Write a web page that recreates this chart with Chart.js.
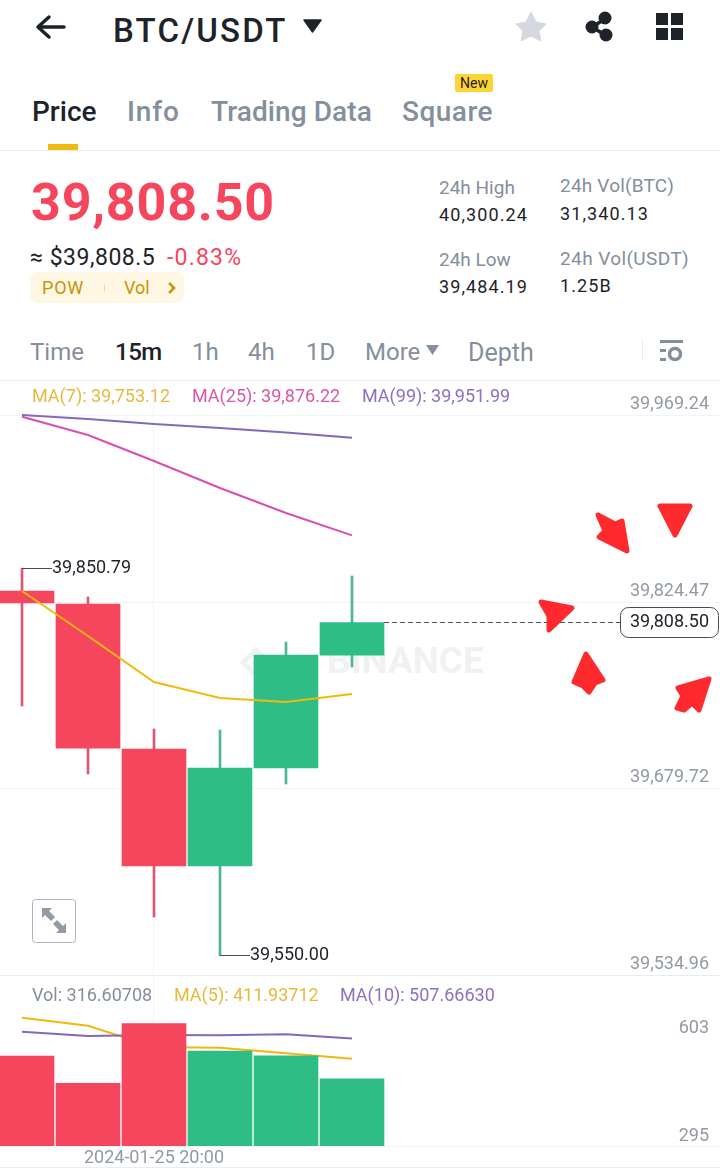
<!DOCTYPE html>
<html>
<head>
<meta charset="utf-8">
<script src="https://cdn.jsdelivr.net/npm/chart.js@4/dist/chart.umd.min.js"></script>
<style>
  html,body{margin:0;padding:0;background:#fff;}
  #page{position:relative;width:720px;height:1170px;overflow:hidden;font-family:Roboto,sans-serif;color:#1E2329;}
  .t{position:absolute;white-space:nowrap;transform:translateY(-50%);line-height:1;}
  .grey{color:#848E9C;}
  .rule{position:absolute;left:0;width:720px;height:1px;background:#EAECEF;}
  canvas{position:absolute;left:0;display:block;}
  svg{position:absolute;left:0;top:0;pointer-events:none;}
</style>
</head>
<body>
<div id="page">
  <!-- top bar -->
  <svg width="720" height="380">
    <path d="M38 27H64M49 17L38 27L49 37" fill="none" stroke="#1E2329" stroke-width="3.5" stroke-linejoin="round" stroke-linecap="round"/>
    <path d="M304 20H321L312.500 32Z" fill="#1E2329" stroke="#1E2329" stroke-width="1.500" stroke-linejoin="round"/>
    <path d="M531 12L536 22L546 24L539 31L541 41L531 36L521 41L523 31L516 24L526 22Z" fill="#D5D9DF" stroke="#D5D9DF" stroke-linejoin="round"/>
    <path d="M605 19L592 27L605 35" fill="none" stroke="#1E2329" stroke-width="3.500"/>
    <circle cx="605" cy="18" r="6.500" fill="#1E2329"/><circle cx="592" cy="27" r="6.500" fill="#1E2329"/><circle cx="606" cy="35" r="6.500" fill="#1E2329"/>
    <rect x="656" y="13" width="12" height="12" fill="#1E2329"/><rect x="671" y="13" width="12" height="12" fill="#1E2329"/>
    <rect x="656" y="28" width="12" height="12" fill="#1E2329"/><rect x="671" y="28" width="12" height="12" fill="#1E2329"/>
    <rect x="48" y="144" width="30" height="6" fill="#F0B90B"/>
    <rect x="455" y="74" width="38" height="18" rx="2" fill="#FCD535"/>
    <rect x="30" y="272" width="154" height="31" rx="8" fill="#FDF7E4"/>
    <rect x="104" y="285" width="1" height="6" fill="#E6D9A8"/>
    <path d="M169 283L174 288L169 293" fill="none" stroke="#C99400" stroke-width="2.500"/>
    <path d="M426 345H439L432.500 355Z" fill="#848E9C"/>
    <rect x="642" y="338" width="1" height="22" fill="#EAECEF"/>
    <rect x="660" y="340" width="23" height="3" fill="#848E9C"/>
    <rect x="660" y="349" width="6" height="3" fill="#848E9C"/><rect x="660" y="358" width="6" height="3" fill="#848E9C"/>
    <circle cx="675" cy="354" r="5.500" fill="none" stroke="#848E9C" stroke-width="3.500"/>
  </svg>
  <div class="t" style="left:113px;top:30px;font-size:33px;font-weight:500;letter-spacing:2.2px;">BTC/USDT</div>
  <div class="t" style="left:460px;top:83px;font-size:14px;">New</div>
  <div class="t" style="left:32px;top:112px;font-size:28px;font-weight:500;">Price</div>
  <div class="t grey" style="left:127px;top:112px;font-size:28px;font-weight:500;letter-spacing:.9px;">Info</div>
  <div class="t grey" style="left:211px;top:112px;font-size:28px;font-weight:500;letter-spacing:.1px;">Trading Data</div>
  <div class="t grey" style="left:402px;top:112px;font-size:28px;font-weight:500;letter-spacing:.5px;">Square</div>
  <div class="rule" style="top:150px;"></div>

  <div class="t" style="left:31px;top:203px;font-size:52px;font-weight:700;color:#F6465D;letter-spacing:.8px;">39,808.50</div>
  <div class="t" style="left:30px;top:257px;font-size:23px;letter-spacing:.5px;">≈ $39,808.5</div>
  <div class="t" style="left:167px;top:257px;font-size:23px;color:#F6465D;letter-spacing:1.2px;">-0.83%</div>
  <div class="t" style="left:42px;top:288px;font-size:18px;color:#C99400;letter-spacing:.8px;">POW</div>
  <div class="t" style="left:124px;top:288px;font-size:18px;color:#C99400;">Vol</div>

  <div class="t grey" style="left:439px;top:187px;font-size:19px;">24h High</div>
  <div class="t" style="left:439px;top:215px;font-size:18px;letter-spacing:1.1px;">40,300.24</div>
  <div class="t grey" style="left:560px;top:185px;font-size:19px;letter-spacing:.2px;">24h Vol(BTC)</div>
  <div class="t" style="left:560px;top:214px;font-size:18px;letter-spacing:1.1px;">31,340.13</div>
  <div class="t grey" style="left:439px;top:259px;font-size:19px;">24h Low</div>
  <div class="t" style="left:439px;top:287px;font-size:18px;letter-spacing:1.1px;">39,484.19</div>
  <div class="t grey" style="left:560px;top:258px;font-size:19px;letter-spacing:.4px;">24h Vol(USDT)</div>
  <div class="t" style="left:560px;top:286px;font-size:18px;letter-spacing:1.1px;">1.25B</div>

  <div class="t grey" style="left:30px;top:352px;font-size:24px;">Time</div>
  <div class="t" style="left:115px;top:352px;font-size:24px;font-weight:500;letter-spacing:-.5px;">15m</div>
  <div class="t grey" style="left:192px;top:352px;font-size:24px;">1h</div>
  <div class="t grey" style="left:248px;top:352px;font-size:24px;">4h</div>
  <div class="t grey" style="left:306px;top:352px;font-size:24px;">1D</div>
  <div class="t grey" style="left:365px;top:352px;font-size:24px;">More</div>
  <div class="t grey" style="left:468px;top:352px;font-size:25px;">Depth</div>

  <canvas id="priceChart" width="720" height="595" style="top:380px;"></canvas>
  <canvas id="volChart" width="720" height="195" style="top:975px;"></canvas>

  <div class="rule" style="top:380px;"></div>
  <div class="rule" style="top:975px;"></div>
  <div class="rule" style="top:1167px;"></div>

  <div class="t" id="legMa7" style="left:32px;top:396px;font-size:18px;color:#E8B93C;"></div>
  <div class="t" id="legMa25" style="left:192px;top:396px;font-size:18px;color:#D957A8;"></div>
  <div class="t" id="legMa99" style="left:362px;top:396px;font-size:18px;color:#8E6FC0;"></div>
  <div class="t grey" id="legVol" style="left:32px;top:995px;font-size:18px;"></div>
  <div class="t" id="legMa5" style="left:174px;top:995px;font-size:18px;color:#E8B93C;"></div>
  <div class="t" id="legMa10" style="left:340px;top:995px;font-size:18px;color:#8E6FC0;"></div>

  <!-- expand button -->
  <svg width="720" height="1170">
    <rect x="32.500" y="899.500" width="43" height="43" rx="3" fill="#fff" stroke="#AEB4BC"/>
    <path d="M42 908H52L49 911L55 917L51 921L45 915L42 918Z" fill="#929AA5"/>
    <path d="M66 933H56L59 930L53 924L57 920L63 926L66 923Z" fill="#929AA5"/>
  </svg>

  <!-- red arrows stuck on the screenshot -->
  <svg width="720" height="1170">
    <g fill="#FF2A2E" stroke="#FF2A2E" stroke-width="5" stroke-linejoin="round">
      <path d="M627 551L622 521L615 524L598 515L605 531L599 537Z"/>
      <path d="M660 506H690L675 535Z"/>
      <path d="M572 608L541 602L549 616L549 630Z"/>
      <path d="M586 654L603 680L595 683L589 692L583 686L574 682Z"/>
      <path d="M709 679L678 688L683 696L677 708L684 710L692 703L699 710Z"/>
    </g>
  </svg>
</div>

<script>
// candles, oldest first (15m)
const times = ['2024-01-25 19:30','2024-01-25 19:45','2024-01-25 20:00','2024-01-25 20:15','2024-01-25 20:30','2024-01-25 20:45'];
const opens  = [39833.0, 39822.9, 39710.4, 39619.6, 39695.6, 39783.3];
const closes = [39823.7, 39711.1, 39619.6, 39695.6, 39783.3, 39808.5];
const highs  = [39850.79, 39828.4, 39725.9, 39725.1, 39793.4, 39844.7];
const lows   = [39743.8, 39691.0, 39580.0, 39550.00, 39683.2, 39774.0];
const ma7  = [39833.0, 39798.1, 39762.4, 39750.0, 39746.9, 39753.12];
const ma25 = [39968.3, 39954.1, 39933.9, 39913.0, 39893.6, 39876.22];
const ma99 = [39969.6, 39966.5, 39962.7, 39959.5, 39956.1, 39951.99];
const priceTicks = [39969.24, 39824.47, 39679.72, 39534.96];

const volumes = [424.8, 296.0, 578.0, 448.0, 426.0, 316.61];
const volMa5  = [605.6, 567.8, 467.0, 464.0, 437.5, 411.94];
const volMa10 = [539.6, 519.0, 524.0, 523.0, 527.0, 507.67];
const volTicks = [603, 295];

const lastPrice = 39808.50;
const legends = {
  legMa7: 'MA(7): 39,753.12', legMa25: 'MA(25): 39,876.22', legMa99: 'MA(99): 39,951.99',
  legVol: 'Vol: 316.60708', legMa5: 'MA(5): 411.93712', legMa10: 'MA(10): 507.66630'
};
Object.keys(legends).forEach(id => { document.getElementById(id).textContent = legends[id]; });

const RED = '#F6465D', GREEN = '#2EBD85', RED_WICK = '#DE5670', GREEN_WICK = '#4DB795';
const YELLOW = '#F0B90B', PINK = '#D94FAE', PURPLE = '#8467BE';
const GRID = '#F3F4F6', TICK = '#929AA5', FONT = 'Roboto';

const candleColor = i => closes[i] >= opens[i] ? GREEN : RED;
const wickColor = i => closes[i] >= opens[i] ? GREEN_WICK : RED_WICK;
const idx = times.map((_, i) => i);
const fmt = v => v.toLocaleString('en-US', { minimumFractionDigits: 2, maximumFractionDigits: 2 });

// x runs 66px per candle, with the first candle clipped at the left edge
const xRange = { min: -1 / 3, max: 10.576, offset: false, bounds: 'data' };

function lineSet(values, color, order) {
  return { type: 'line', data: idx.map(i => ({ x: i, y: values[i] })), borderColor: color, borderWidth: 2,
    pointRadius: 0, tension: 0, order };
}

// mirror axes keep padding and a label gap; the plot must fill the canvas
function noPadding(s) { s.paddingTop = 0; s.paddingBottom = 0; s.width = 0; }

const watermark = {
  id: 'watermark',
  beforeDatasetsDraw(chart) {
    const { ctx } = chart;
    const y = chart.scales.y.getPixelForValue(39779);
    const x = chart.scales.x.getPixelForValue(4.15);
    ctx.save();
    ctx.fillStyle = '#F0F1F3';
    ctx.font = 'bold 37px ' + FONT;
    ctx.textAlign = 'right';
    ctx.textBaseline = 'middle';
    ctx.fillText('BINANCE', x + 188, y + 3);
    ctx.translate(x - 40, y + 2);
    ctx.rotate(Math.PI / 4);
    ctx.strokeStyle = '#F0F1F3';
    ctx.lineWidth = 5;
    ctx.strokeRect(-9, -9, 18, 18);
    ctx.fillRect(-3, -3, 6, 6);
    ctx.restore();
  }
};

const annotations = {
  id: 'annotations',
  afterDatasetsDraw(chart) {
    const { ctx, scales: { x, y } } = chart;
    ctx.save();
    ctx.font = '18px ' + FONT;
    ctx.textBaseline = 'middle';

    // high / low leaders
    [[0, highs[0]], [3, lows[3]]].forEach(([i, v]) => {
      const px = x.getPixelForValue(i), py = Math.floor(y.getPixelForValue(v)) + 0.5;
      ctx.strokeStyle = '#474D57';
      ctx.lineWidth = 1;
      ctx.beginPath();
      ctx.moveTo(px, py);
      ctx.lineTo(px + 30, py);
      ctx.stroke();
      ctx.fillStyle = '#1E2329';
      ctx.textAlign = 'left';
      ctx.fillText(fmt(v), px + 30, py);
    });

    // last price dashed line and box
    const ly = Math.floor(y.getPixelForValue(lastPrice)) + 0.5;
    const startX = x.getPixelForValue(5.5) - 1;
    const boxX = 620.5, boxW = 98, boxH = 30;
    ctx.strokeStyle = '#474D57';
    ctx.setLineDash([5, 3]);
    ctx.beginPath();
    ctx.moveTo(startX, ly);
    ctx.lineTo(boxX, ly);
    ctx.stroke();
    ctx.setLineDash([]);
    ctx.beginPath();
    ctx.roundRect(boxX, ly - boxH / 2, boxW, boxH, 8);
    ctx.fillStyle = '#fff';
    ctx.fill();
    ctx.stroke();
    ctx.fillStyle = '#1E2329';
    ctx.textAlign = 'center';
    ctx.fillText(fmt(lastPrice), boxX + boxW / 2, ly);
    ctx.restore();
  }
};

new Chart(document.getElementById('priceChart'), {
  type: 'bar',
  data: {
    datasets: [
      lineSet(ma99, PURPLE, 1),
      lineSet(ma25, PINK, 1),
      lineSet(ma7, YELLOW, 1),
      { data: idx.map(i => ({ x: i, y: [opens[i], closes[i]] })), backgroundColor: idx.map(candleColor),
        barThickness: 64, grouped: false, order: 2 },
      { data: idx.map(i => ({ x: i, y: [lows[i], highs[i]] })), backgroundColor: idx.map(wickColor),
        barThickness: 2, grouped: false, order: 3 }
    ]
  },
  options: {
    responsive: false, animation: false, devicePixelRatio: 1,
    layout: { padding: 0 },
    plugins: { legend: { display: false }, tooltip: { enabled: false } },
    scales: {
      x: { type: 'linear', ...xRange, ticks: { display: false, stepSize: 1 }, border: { display: false },
        afterBuildTicks: s => { s.ticks = [{ value: 2 }]; },
        grid: { offset: false, color: GRID, drawTicks: false } },
      y: { position: 'right', min: 39534.96, max: 39996.8, bounds: 'data', border: { display: false },
        afterBuildTicks: s => { s.ticks = priceTicks.map(value => ({ value })); },
        afterFit: noPadding,
        grid: { color: GRID, drawTicks: false },
        ticks: { mirror: true, padding: -11, labelOffset: -11, color: TICK, font: { family: FONT, size: 18 }, callback: fmt } }
    }
  },
  plugins: [watermark, annotations]
});

new Chart(document.getElementById('volChart'), {
  type: 'bar',
  data: {
    datasets: [
      { data: idx.map(i => ({ x: i, y: volumes[i] })), backgroundColor: idx.map(candleColor), barThickness: 64, grouped: false, order: 1 },
      lineSet(volMa10, PURPLE, 2),
      lineSet(volMa5, YELLOW, 2)
    ]
  },
  options: {
    responsive: false, animation: false, devicePixelRatio: 1,
    layout: { padding: 0 },
    plugins: { legend: { display: false }, tooltip: { enabled: false } },
    scales: {
      x: { type: 'linear', ...xRange, border: { color: GRID },
        afterBuildTicks: s => { s.ticks = [{ value: 2 }]; },
        afterFit: s => { s.height = 24; },
        grid: { offset: false, color: GRID, drawTicks: false },
        ticks: { padding: 2, maxRotation: 0, color: TICK, font: { family: FONT, size: 18 }, callback: v => times[v] } },
      y: { display: false, min: 0, max: 807.1, bounds: 'data' },
      // the printed labels do not line up with the bar scale in the source, so they get their own axis
      yLabels: { position: 'right', min: 295, max: 787.2, bounds: 'data', border: { display: false },
        afterBuildTicks: s => { s.ticks = volTicks.map(value => ({ value })); },
        afterFit: noPadding,
        grid: { drawOnChartArea: false, drawTicks: false },
        ticks: { mirror: true, padding: -11, labelOffset: -10, color: TICK, font: { family: FONT, size: 18 } } }
    }
  }
});
</script>
</body>
</html>
